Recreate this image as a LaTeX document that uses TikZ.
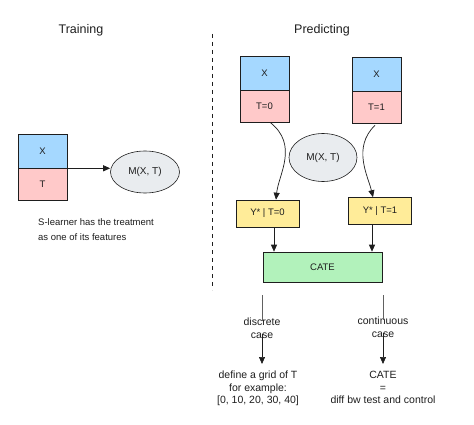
\documentclass[tikz,border=0pt]{standalone}
\usepackage{fontspec}
\setmainfont{Liberation Sans}
\usetikzlibrary{arrows.meta,shapes.geometric}
\definecolor{ink}{HTML}{1E1E1E}
\definecolor{xblue}{HTML}{A5D8FF}
\definecolor{tpink}{HTML}{FFC9C9}
\definecolor{mgray}{HTML}{E9ECEF}
\definecolor{yyellow}{HTML}{FFEC99}
\definecolor{cgreen}{HTML}{B2F2BB}
\tikzset{
  box/.style={draw=ink, line width=0.6pt, inner sep=0pt, font=\fontsize{9.5}{10}\selectfont, text=ink},
  xbox/.style={box, fill=xblue, minimum width=49pt, minimum height=34pt},
  tbox/.style={box, fill=tpink, minimum width=49pt, minimum height=32pt},
  model/.style={draw=ink, line width=0.6pt, fill=mgray, ellipse, font=\fontsize{10}{11}\selectfont, text=ink, inner sep=0pt},
  ybox/.style={box, fill=yyellow, minimum width=63pt, minimum height=27pt},
  cbox/.style={box, fill=cgreen, minimum width=119pt, minimum height=30pt},
  title/.style={font=\fontsize{12.5}{14}\selectfont, text=ink},
  note/.style={font=\fontsize{10.5}{12.5}\selectfont, text=ink, align=center, inner sep=0pt},
  arr/.style={draw=ink, line width=0.7pt, -{Triangle[length=7pt,width=6pt]}},
  ln/.style={draw=ink!70, line width=0.8pt},
}
\begin{document}
\begin{tikzpicture}[x=1pt,y=-1pt]
\useasboundingbox (0,0) rectangle (474,425);
% titles
\node[title] (train) at (81,30) {Training};
\node[title] (pred) at (322,30) {Predicting};
\coordinate (dtop) at (212,34);
\coordinate (dbot) at (212,290);
\draw[ink, line width=0.7pt, dash pattern=on 4pt off 4pt] (dtop) -- (dbot);
% training
\node[xbox] (lx) at (42.5,151) {X};
\node[tbox] (lt) at (42.5,184) {T};
\node[model, minimum width=69pt, minimum height=42pt] (lm) at (145,172) {M(X, T)};
\draw[arr] (lx.south east) -- (lx.south east -| lm.west);
\node[note, anchor=north west, align=left, font=\fontsize{9.5}{15}\selectfont] (lnote) at (38,218) {S-learner has the treatment\\as one of its features};
% predicting
\node[xbox] (px0) at (264.5,73) {X};
\node[tbox] (pt0) at (264.5,106) {T=0};
\node[xbox] (px1) at (376.5,74) {X};
\node[tbox] (pt1) at (376.5,107) {T=1};
\node[model, minimum width=68pt, minimum height=48pt] (pm) at (323,157.5) {M(X, T)};
\node[ybox] (y0) at (267.5,213.5) {Y* | T=0};
\node[ybox] (y1) at (380,211) {Y* | T=1};
\node[cbox] (cate) at (322.5,267) {CATE};
\draw[arr] ([xshift=5.5pt]pt0.south) .. controls (299,145) and (278.5,174.5) .. ([xshift=8.5pt]y0.north);
\draw[arr] ([xshift=-1.5pt,yshift=-2pt]pt1.south) .. controls (352,147.5) and (368,176) .. ([xshift=-7pt]y1.north);
\draw[arr] ([xshift=6.5pt]y0.south) -- ([xshift=-48.5pt]cate.north);
\draw[arr] ([xshift=-8pt]y1.south) -- ([xshift=49.5pt]cate.north);
% bottom
\coordinate (ds) at (262,295);
\coordinate (cs) at (383,295);
\node[note] (dlab) at (262,328) {discrete\\case};
\node[note] (clab) at (383,327) {continuous\\case};
\node[note, anchor=north] (dres) at (258,371) {define a grid of T\\for example:\\{[0, 10, 20, 30, 40]}};
\node[note, anchor=north] (cres) at (383,371) {CATE\\=\\diff bw test and control};
\draw[ln] (ds) -- ([yshift=-3pt]dlab.north);
\draw[ln] (cs) -- ([yshift=-3pt]clab.north);
\draw[arr] ([yshift=4pt]dlab.south) -- (262,364);
\draw[arr] ([yshift=4pt]clab.south) -- (383,364);
\end{tikzpicture}
\end{document}
